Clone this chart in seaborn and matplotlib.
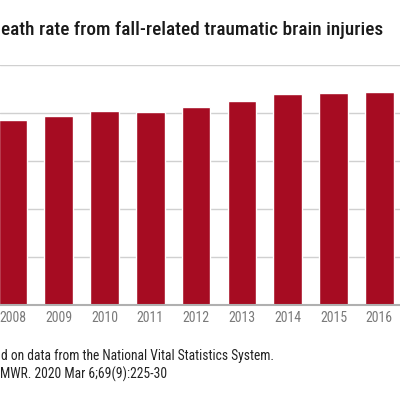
import matplotlib
matplotlib.use('Agg')
import matplotlib.pyplot as plt
import pandas as pd
import seaborn as sns

# values (deaths per 100,000)
years = ['2008', '2009', '2010', '2011', '2012', '2013', '2014', '2015', '2016']
rates = [3.85, 3.94, 4.04, 4.02, 4.12, 4.25, 4.40, 4.41, 4.43]
y_ticks = [0, 1, 2, 3, 4, 5]

# the reference is a crop, so only the visible part of each text is kept
title = 'eath rate from fall-related traumatic brain injuries'
note = 'd on data from the National Vital Statistics System.'
source = 'MWR. 2020 Mar 6;69(9):225-30'

bar_color = '#a60c22'
cond = ['Roboto Condensed', 'DejaVu Sans']


def fit_width(fig, txt, width_px):
    """scale a text's font size so it spans width_px pixels"""
    fig.canvas.draw()
    w = txt.get_window_extent().width
    txt.set_fontsize(txt.get_fontsize() * width_px / w)


def main():
    df = pd.DataFrame({'year': years, 'rate': rates})
    sns.set_style('white')
    plt.rcParams['font.family'] = cond

    fig = plt.figure(figsize=(4, 4), dpi=100)
    ax = fig.add_axes([0, 95 / 400, 1, 240 / 400])
    sns.barplot(data=df, x='year', y='rate', color=bar_color, width=0.627,
                saturation=1, ax=ax, zorder=3)
    ax.set_xlim(-0.282, 8.452)
    ax.set_ylim(0, 5)
    ax.set_yticks(y_ticks)
    ax.set_yticklabels([])
    ax.yaxis.grid(True, color='#d0d0d0', linewidth=1)
    ax.set_axisbelow(True)
    for s in ['top', 'right', 'left']:
        ax.spines[s].set_visible(False)
    ax.spines['bottom'].set_color('#b0b0b0')
    ax.spines['bottom'].set_linewidth(1.5)
    ax.spines['bottom'].set_zorder(4)
    ax.tick_params(axis='x', length=0, pad=4, labelsize=10, labelcolor='#7a7a7a')
    ax.tick_params(axis='y', length=0)
    ax.set_xlabel('')
    ax.set_ylabel('')

    t = fig.text(1 / 400, 1 - 35 / 400, title, ha='left', va='baseline',
                 fontsize=14, color='#1a1a1a', family=cond, fontweight=500)
    n = fig.text(1 / 400, 1 - 360 / 400, note, ha='left', va='baseline',
                 fontsize=8.2, color='#222222', family=cond)
    s = fig.text(0, 1 - 379 / 400, source, ha='left', va='baseline',
                 fontsize=8.2, color='#222222', family=cond)
    fit_width(fig, t, 382)
    fit_width(fig, n, 272)
    fit_width(fig, s, 167)

    fig.savefig('out.png', dpi=100)


main()
